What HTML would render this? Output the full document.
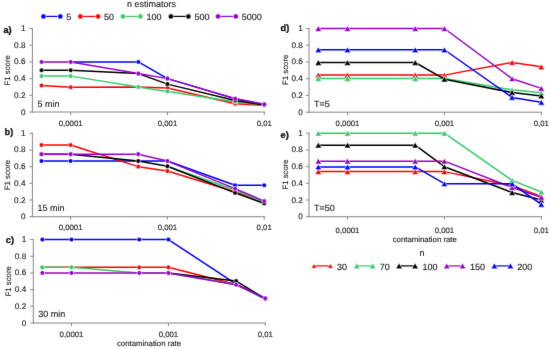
<!DOCTYPE html>
<html><head><meta charset="utf-8"><style>
html,body{margin:0;padding:0;background:#fff;width:550px;height:349px;overflow:hidden;}
svg{display:block;}
#w{will-change:transform;width:550px;height:349px;}
text{fill:#1a1a1a;stroke:#1a1a1a;stroke-width:0.12px;text-rendering:geometricPrecision;}
</style></head><body><div id="w">
<svg width="550" height="349" viewBox="0 0 550 349" font-family='"Liberation Sans", sans-serif' fill="#000"><defs><filter id="bl" x="0" y="0" width="100%" height="100%" filterUnits="userSpaceOnUse" color-interpolation-filters="sRGB"><feConvolveMatrix order="3" kernelMatrix="0.01 0.05 0.01 0.05 0.76 0.05 0.01 0.05 0.01" divisor="1" edgeMode="duplicate" preserveAlpha="true"/></filter></defs><g filter="url(#bl)"><rect x="0" y="0" width="550" height="349" fill="#fff"/><line x1="32.40" y1="28.05" x2="32.40" y2="112.50" stroke="#868686" stroke-width="1"/>
<line x1="31.90" y1="112.00" x2="264.90" y2="112.00" stroke="#868686" stroke-width="1"/>
<line x1="29.40" y1="112.00" x2="32.40" y2="112.00" stroke="#868686" stroke-width="1"/>
<text x="25.50" y="114.50" font-size="8.2" text-anchor="end" font-weight="normal" >0</text>
<line x1="29.40" y1="95.31" x2="32.40" y2="95.31" stroke="#868686" stroke-width="1"/>
<text x="25.50" y="97.81" font-size="8.2" text-anchor="end" font-weight="normal" >0.2</text>
<line x1="29.40" y1="78.62" x2="32.40" y2="78.62" stroke="#868686" stroke-width="1"/>
<text x="25.50" y="81.12" font-size="8.2" text-anchor="end" font-weight="normal" >0.4</text>
<line x1="29.40" y1="61.93" x2="32.40" y2="61.93" stroke="#868686" stroke-width="1"/>
<text x="25.50" y="64.43" font-size="8.2" text-anchor="end" font-weight="normal" >0.6</text>
<line x1="29.40" y1="45.24" x2="32.40" y2="45.24" stroke="#868686" stroke-width="1"/>
<text x="25.50" y="47.74" font-size="8.2" text-anchor="end" font-weight="normal" >0.8</text>
<line x1="29.40" y1="28.55" x2="32.40" y2="28.55" stroke="#868686" stroke-width="1"/>
<text x="25.50" y="31.05" font-size="8.2" text-anchor="end" font-weight="normal" >1</text>
<line x1="70.70" y1="112.00" x2="70.70" y2="115.00" stroke="#868686" stroke-width="1"/>
<text x="70.70" y="125.80" font-size="7.8" text-anchor="middle" font-weight="normal" >0,0001</text>
<line x1="167.50" y1="112.00" x2="167.50" y2="115.00" stroke="#868686" stroke-width="1"/>
<text x="167.50" y="125.80" font-size="7.8" text-anchor="middle" font-weight="normal" >0,001</text>
<line x1="264.30" y1="112.00" x2="264.30" y2="115.00" stroke="#868686" stroke-width="1"/>
<text x="264.30" y="125.80" font-size="7.8" text-anchor="middle" font-weight="normal" >0,01</text>
<text x="0" y="0" font-size="7.8" text-anchor="middle" transform="translate(10.4,70.28) rotate(-90)">F1 score</text>
<text x="3.40" y="32.50" font-size="9.2" text-anchor="start" font-weight="bold" style="stroke-width:0.35px">a)</text>
<text x="37.40" y="106.70" font-size="9" text-anchor="start" font-weight="normal" >5 min</text>
<polyline points="70.70,61.93 138.36,61.93 167.50,78.62 235.16,98.65 264.30,104.49" fill="none" stroke="#0000ff" stroke-width="1.5" stroke-linejoin="round"/>
<circle cx="70.70" cy="61.93" r="2.30" fill="#0000ff" stroke="#fff" stroke-width="0.6"/>
<circle cx="138.36" cy="61.93" r="2.30" fill="#0000ff" stroke="#fff" stroke-width="0.6"/>
<circle cx="167.50" cy="78.62" r="2.30" fill="#0000ff" stroke="#fff" stroke-width="0.6"/>
<circle cx="235.16" cy="98.65" r="2.30" fill="#0000ff" stroke="#fff" stroke-width="0.6"/>
<circle cx="264.30" cy="104.49" r="2.30" fill="#0000ff" stroke="#fff" stroke-width="0.6"/>
<polyline points="41.56,85.55 70.70,87.22 138.36,86.97 167.50,88.05 235.16,103.82 264.30,105.32" fill="none" stroke="#ff0000" stroke-width="1.5" stroke-linejoin="round"/>
<circle cx="41.56" cy="85.55" r="2.30" fill="#ff0000" stroke="#fff" stroke-width="0.6"/>
<circle cx="70.70" cy="87.22" r="2.30" fill="#ff0000" stroke="#fff" stroke-width="0.6"/>
<circle cx="138.36" cy="86.97" r="2.30" fill="#ff0000" stroke="#fff" stroke-width="0.6"/>
<circle cx="167.50" cy="88.05" r="2.30" fill="#ff0000" stroke="#fff" stroke-width="0.6"/>
<circle cx="235.16" cy="103.82" r="2.30" fill="#ff0000" stroke="#fff" stroke-width="0.6"/>
<circle cx="264.30" cy="105.32" r="2.30" fill="#ff0000" stroke="#fff" stroke-width="0.6"/>
<polyline points="41.56,76.12 70.70,76.12 138.36,86.97 167.50,91.39 235.16,101.65 264.30,105.32" fill="none" stroke="#33cc66" stroke-width="1.5" stroke-linejoin="round"/>
<circle cx="41.56" cy="76.12" r="2.30" fill="#33cc66" stroke="#fff" stroke-width="0.6"/>
<circle cx="70.70" cy="76.12" r="2.30" fill="#33cc66" stroke="#fff" stroke-width="0.6"/>
<circle cx="138.36" cy="86.97" r="2.30" fill="#33cc66" stroke="#fff" stroke-width="0.6"/>
<circle cx="167.50" cy="91.39" r="2.30" fill="#33cc66" stroke="#fff" stroke-width="0.6"/>
<circle cx="235.16" cy="101.65" r="2.30" fill="#33cc66" stroke="#fff" stroke-width="0.6"/>
<circle cx="264.30" cy="105.32" r="2.30" fill="#33cc66" stroke="#fff" stroke-width="0.6"/>
<polyline points="41.56,70.28 70.70,70.28 138.36,73.61 167.50,84.13 235.16,100.57 264.30,104.91" fill="none" stroke="#000000" stroke-width="1.5" stroke-linejoin="round"/>
<circle cx="41.56" cy="70.28" r="2.30" fill="#000000" stroke="#fff" stroke-width="0.6"/>
<circle cx="70.70" cy="70.28" r="2.30" fill="#000000" stroke="#fff" stroke-width="0.6"/>
<circle cx="138.36" cy="73.61" r="2.30" fill="#000000" stroke="#fff" stroke-width="0.6"/>
<circle cx="167.50" cy="84.13" r="2.30" fill="#000000" stroke="#fff" stroke-width="0.6"/>
<circle cx="235.16" cy="100.57" r="2.30" fill="#000000" stroke="#fff" stroke-width="0.6"/>
<circle cx="264.30" cy="104.91" r="2.30" fill="#000000" stroke="#fff" stroke-width="0.6"/>
<polyline points="41.56,61.93 70.70,61.93 138.36,73.61 167.50,78.62 235.16,98.81 264.30,104.32" fill="none" stroke="#9900cc" stroke-width="1.5" stroke-linejoin="round"/>
<circle cx="41.56" cy="61.93" r="2.30" fill="#9900cc" stroke="#fff" stroke-width="0.6"/>
<circle cx="70.70" cy="61.93" r="2.30" fill="#9900cc" stroke="#fff" stroke-width="0.6"/>
<circle cx="138.36" cy="73.61" r="2.30" fill="#9900cc" stroke="#fff" stroke-width="0.6"/>
<circle cx="167.50" cy="78.62" r="2.30" fill="#9900cc" stroke="#fff" stroke-width="0.6"/>
<circle cx="235.16" cy="98.81" r="2.30" fill="#9900cc" stroke="#fff" stroke-width="0.6"/>
<circle cx="264.30" cy="104.32" r="2.30" fill="#9900cc" stroke="#fff" stroke-width="0.6"/>
<line x1="32.40" y1="132.80" x2="32.40" y2="217.20" stroke="#868686" stroke-width="1"/>
<line x1="31.90" y1="216.70" x2="265.00" y2="216.70" stroke="#868686" stroke-width="1"/>
<line x1="29.40" y1="216.70" x2="32.40" y2="216.70" stroke="#868686" stroke-width="1"/>
<text x="25.50" y="219.20" font-size="8.2" text-anchor="end" font-weight="normal" >0</text>
<line x1="29.40" y1="200.02" x2="32.40" y2="200.02" stroke="#868686" stroke-width="1"/>
<text x="25.50" y="202.52" font-size="8.2" text-anchor="end" font-weight="normal" >0.2</text>
<line x1="29.40" y1="183.34" x2="32.40" y2="183.34" stroke="#868686" stroke-width="1"/>
<text x="25.50" y="185.84" font-size="8.2" text-anchor="end" font-weight="normal" >0.4</text>
<line x1="29.40" y1="166.66" x2="32.40" y2="166.66" stroke="#868686" stroke-width="1"/>
<text x="25.50" y="169.16" font-size="8.2" text-anchor="end" font-weight="normal" >0.6</text>
<line x1="29.40" y1="149.98" x2="32.40" y2="149.98" stroke="#868686" stroke-width="1"/>
<text x="25.50" y="152.48" font-size="8.2" text-anchor="end" font-weight="normal" >0.8</text>
<line x1="29.40" y1="133.30" x2="32.40" y2="133.30" stroke="#868686" stroke-width="1"/>
<text x="25.50" y="135.80" font-size="8.2" text-anchor="end" font-weight="normal" >1</text>
<line x1="70.60" y1="216.70" x2="70.60" y2="219.70" stroke="#868686" stroke-width="1"/>
<text x="70.60" y="230.40" font-size="7.8" text-anchor="middle" font-weight="normal" >0,0001</text>
<line x1="167.40" y1="216.70" x2="167.40" y2="219.70" stroke="#868686" stroke-width="1"/>
<text x="167.40" y="230.40" font-size="7.8" text-anchor="middle" font-weight="normal" >0,001</text>
<line x1="264.20" y1="216.70" x2="264.20" y2="219.70" stroke="#868686" stroke-width="1"/>
<text x="264.20" y="230.40" font-size="7.8" text-anchor="middle" font-weight="normal" >0,01</text>
<text x="0" y="0" font-size="7.8" text-anchor="middle" transform="translate(10.4,175.00) rotate(-90)">F1 score</text>
<text x="4.60" y="135.40" font-size="9.2" text-anchor="start" font-weight="bold" style="stroke-width:0.35px">b)</text>
<text x="37.40" y="211.40" font-size="9" text-anchor="start" font-weight="normal" >15 min</text>
<polyline points="41.46,161.07 70.60,161.07 138.26,161.07 167.40,161.07 235.06,185.26 264.20,185.26" fill="none" stroke="#0000ff" stroke-width="1.5" stroke-linejoin="round"/>
<circle cx="41.46" cy="161.07" r="2.30" fill="#0000ff" stroke="#fff" stroke-width="0.6"/>
<circle cx="70.60" cy="161.07" r="2.30" fill="#0000ff" stroke="#fff" stroke-width="0.6"/>
<circle cx="138.26" cy="161.07" r="2.30" fill="#0000ff" stroke="#fff" stroke-width="0.6"/>
<circle cx="167.40" cy="161.07" r="2.30" fill="#0000ff" stroke="#fff" stroke-width="0.6"/>
<circle cx="235.06" cy="185.26" r="2.30" fill="#0000ff" stroke="#fff" stroke-width="0.6"/>
<circle cx="264.20" cy="185.26" r="2.30" fill="#0000ff" stroke="#fff" stroke-width="0.6"/>
<polyline points="41.46,144.98 70.60,144.98 138.26,166.66 167.40,171.08 235.06,191.68 264.20,202.52" fill="none" stroke="#ff0000" stroke-width="1.5" stroke-linejoin="round"/>
<circle cx="41.46" cy="144.98" r="2.30" fill="#ff0000" stroke="#fff" stroke-width="0.6"/>
<circle cx="70.60" cy="144.98" r="2.30" fill="#ff0000" stroke="#fff" stroke-width="0.6"/>
<circle cx="138.26" cy="166.66" r="2.30" fill="#ff0000" stroke="#fff" stroke-width="0.6"/>
<circle cx="167.40" cy="171.08" r="2.30" fill="#ff0000" stroke="#fff" stroke-width="0.6"/>
<circle cx="235.06" cy="191.68" r="2.30" fill="#ff0000" stroke="#fff" stroke-width="0.6"/>
<circle cx="264.20" cy="202.52" r="2.30" fill="#ff0000" stroke="#fff" stroke-width="0.6"/>
<polyline points="167.40,166.24 235.06,190.01 264.20,202.52" fill="none" stroke="#33cc66" stroke-width="1.5" stroke-linejoin="round"/>
<circle cx="167.40" cy="166.24" r="2.30" fill="#33cc66" stroke="#fff" stroke-width="0.6"/>
<circle cx="235.06" cy="190.01" r="2.30" fill="#33cc66" stroke="#fff" stroke-width="0.6"/>
<circle cx="264.20" cy="202.52" r="2.30" fill="#33cc66" stroke="#fff" stroke-width="0.6"/>
<polyline points="41.46,154.15 70.60,154.15 138.26,161.07 167.40,166.24 235.06,192.85 264.20,203.44" fill="none" stroke="#000000" stroke-width="1.5" stroke-linejoin="round"/>
<circle cx="41.46" cy="154.15" r="2.30" fill="#000000" stroke="#fff" stroke-width="0.6"/>
<circle cx="70.60" cy="154.15" r="2.30" fill="#000000" stroke="#fff" stroke-width="0.6"/>
<circle cx="138.26" cy="161.07" r="2.30" fill="#000000" stroke="#fff" stroke-width="0.6"/>
<circle cx="167.40" cy="166.24" r="2.30" fill="#000000" stroke="#fff" stroke-width="0.6"/>
<circle cx="235.06" cy="192.85" r="2.30" fill="#000000" stroke="#fff" stroke-width="0.6"/>
<circle cx="264.20" cy="203.44" r="2.30" fill="#000000" stroke="#fff" stroke-width="0.6"/>
<polyline points="41.46,154.15 70.60,154.15 138.26,154.15 167.40,161.07 235.06,188.68 264.20,201.10" fill="none" stroke="#9900cc" stroke-width="1.5" stroke-linejoin="round"/>
<circle cx="41.46" cy="154.15" r="2.30" fill="#9900cc" stroke="#fff" stroke-width="0.6"/>
<circle cx="70.60" cy="154.15" r="2.30" fill="#9900cc" stroke="#fff" stroke-width="0.6"/>
<circle cx="138.26" cy="154.15" r="2.30" fill="#9900cc" stroke="#fff" stroke-width="0.6"/>
<circle cx="167.40" cy="161.07" r="2.30" fill="#9900cc" stroke="#fff" stroke-width="0.6"/>
<circle cx="235.06" cy="188.68" r="2.30" fill="#9900cc" stroke="#fff" stroke-width="0.6"/>
<circle cx="264.20" cy="201.10" r="2.30" fill="#9900cc" stroke="#fff" stroke-width="0.6"/>
<line x1="33.30" y1="239.05" x2="33.30" y2="323.50" stroke="#868686" stroke-width="1"/>
<line x1="32.80" y1="323.00" x2="265.90" y2="323.00" stroke="#868686" stroke-width="1"/>
<line x1="30.30" y1="323.00" x2="33.30" y2="323.00" stroke="#868686" stroke-width="1"/>
<text x="26.20" y="325.50" font-size="8.2" text-anchor="end" font-weight="normal" >0</text>
<line x1="30.30" y1="306.31" x2="33.30" y2="306.31" stroke="#868686" stroke-width="1"/>
<text x="26.20" y="308.81" font-size="8.2" text-anchor="end" font-weight="normal" >0.2</text>
<line x1="30.30" y1="289.62" x2="33.30" y2="289.62" stroke="#868686" stroke-width="1"/>
<text x="26.20" y="292.12" font-size="8.2" text-anchor="end" font-weight="normal" >0.4</text>
<line x1="30.30" y1="272.93" x2="33.30" y2="272.93" stroke="#868686" stroke-width="1"/>
<text x="26.20" y="275.43" font-size="8.2" text-anchor="end" font-weight="normal" >0.6</text>
<line x1="30.30" y1="256.24" x2="33.30" y2="256.24" stroke="#868686" stroke-width="1"/>
<text x="26.20" y="258.74" font-size="8.2" text-anchor="end" font-weight="normal" >0.8</text>
<line x1="30.30" y1="239.55" x2="33.30" y2="239.55" stroke="#868686" stroke-width="1"/>
<text x="26.20" y="242.05" font-size="8.2" text-anchor="end" font-weight="normal" >1</text>
<line x1="71.50" y1="323.00" x2="71.50" y2="326.00" stroke="#868686" stroke-width="1"/>
<text x="71.50" y="336.60" font-size="7.8" text-anchor="middle" font-weight="normal" >0,0001</text>
<line x1="168.40" y1="323.00" x2="168.40" y2="326.00" stroke="#868686" stroke-width="1"/>
<text x="168.40" y="336.60" font-size="7.8" text-anchor="middle" font-weight="normal" >0,001</text>
<line x1="265.30" y1="323.00" x2="265.30" y2="326.00" stroke="#868686" stroke-width="1"/>
<text x="265.30" y="336.60" font-size="7.8" text-anchor="middle" font-weight="normal" >0,01</text>
<text x="0" y="0" font-size="7.8" text-anchor="middle" transform="translate(11.0,281.27) rotate(-90)">F1 score</text>
<text x="5.80" y="242.60" font-size="9.2" text-anchor="start" font-weight="bold" style="stroke-width:0.35px">c)</text>
<text x="38.30" y="317.00" font-size="9" text-anchor="start" font-weight="normal" >30 min</text>
<polyline points="42.33,239.55 71.50,239.55 139.23,239.55 168.40,239.55 236.13,284.11 265.30,299.30" fill="none" stroke="#0000ff" stroke-width="1.5" stroke-linejoin="round"/>
<circle cx="42.33" cy="239.55" r="2.30" fill="#0000ff" stroke="#fff" stroke-width="0.6"/>
<circle cx="71.50" cy="239.55" r="2.30" fill="#0000ff" stroke="#fff" stroke-width="0.6"/>
<circle cx="139.23" cy="239.55" r="2.30" fill="#0000ff" stroke="#fff" stroke-width="0.6"/>
<circle cx="168.40" cy="239.55" r="2.30" fill="#0000ff" stroke="#fff" stroke-width="0.6"/>
<circle cx="236.13" cy="284.11" r="2.30" fill="#0000ff" stroke="#fff" stroke-width="0.6"/>
<circle cx="265.30" cy="299.30" r="2.30" fill="#0000ff" stroke="#fff" stroke-width="0.6"/>
<polyline points="42.33,267.34 71.50,267.34 139.23,267.34 168.40,267.34 236.13,284.45 265.30,298.30" fill="none" stroke="#ff0000" stroke-width="1.5" stroke-linejoin="round"/>
<circle cx="42.33" cy="267.34" r="2.30" fill="#ff0000" stroke="#fff" stroke-width="0.6"/>
<circle cx="71.50" cy="267.34" r="2.30" fill="#ff0000" stroke="#fff" stroke-width="0.6"/>
<circle cx="139.23" cy="267.34" r="2.30" fill="#ff0000" stroke="#fff" stroke-width="0.6"/>
<circle cx="168.40" cy="267.34" r="2.30" fill="#ff0000" stroke="#fff" stroke-width="0.6"/>
<circle cx="236.13" cy="284.45" r="2.30" fill="#ff0000" stroke="#fff" stroke-width="0.6"/>
<circle cx="265.30" cy="298.30" r="2.30" fill="#ff0000" stroke="#fff" stroke-width="0.6"/>
<polyline points="42.33,267.34 71.50,267.34 139.23,272.93 168.40,272.93 236.13,284.61 265.30,298.80" fill="none" stroke="#33cc66" stroke-width="1.5" stroke-linejoin="round"/>
<circle cx="42.33" cy="267.34" r="2.30" fill="#33cc66" stroke="#fff" stroke-width="0.6"/>
<circle cx="71.50" cy="267.34" r="2.30" fill="#33cc66" stroke="#fff" stroke-width="0.6"/>
<circle cx="139.23" cy="272.93" r="2.30" fill="#33cc66" stroke="#fff" stroke-width="0.6"/>
<circle cx="168.40" cy="272.93" r="2.30" fill="#33cc66" stroke="#fff" stroke-width="0.6"/>
<circle cx="236.13" cy="284.61" r="2.30" fill="#33cc66" stroke="#fff" stroke-width="0.6"/>
<circle cx="265.30" cy="298.80" r="2.30" fill="#33cc66" stroke="#fff" stroke-width="0.6"/>
<polyline points="168.40,272.93 236.13,281.02 265.30,298.80" fill="none" stroke="#000000" stroke-width="1.5" stroke-linejoin="round"/>
<circle cx="168.40" cy="272.93" r="2.30" fill="#000000" stroke="#fff" stroke-width="0.6"/>
<circle cx="236.13" cy="281.02" r="2.30" fill="#000000" stroke="#fff" stroke-width="0.6"/>
<circle cx="265.30" cy="298.80" r="2.30" fill="#000000" stroke="#fff" stroke-width="0.6"/>
<polyline points="42.33,272.93 71.50,272.93 139.23,272.93 168.40,272.93 236.13,284.70 265.30,298.22" fill="none" stroke="#9900cc" stroke-width="1.5" stroke-linejoin="round"/>
<circle cx="42.33" cy="272.93" r="2.30" fill="#9900cc" stroke="#fff" stroke-width="0.6"/>
<circle cx="71.50" cy="272.93" r="2.30" fill="#9900cc" stroke="#fff" stroke-width="0.6"/>
<circle cx="139.23" cy="272.93" r="2.30" fill="#9900cc" stroke="#fff" stroke-width="0.6"/>
<circle cx="168.40" cy="272.93" r="2.30" fill="#9900cc" stroke="#fff" stroke-width="0.6"/>
<circle cx="236.13" cy="284.70" r="2.30" fill="#9900cc" stroke="#fff" stroke-width="0.6"/>
<circle cx="265.30" cy="298.22" r="2.30" fill="#9900cc" stroke="#fff" stroke-width="0.6"/>
<line x1="309.00" y1="28.00" x2="309.00" y2="112.70" stroke="#868686" stroke-width="1"/>
<line x1="308.50" y1="112.20" x2="541.80" y2="112.20" stroke="#868686" stroke-width="1"/>
<line x1="306.00" y1="112.20" x2="309.00" y2="112.20" stroke="#868686" stroke-width="1"/>
<text x="302.80" y="114.70" font-size="8.2" text-anchor="end" font-weight="normal" >0</text>
<line x1="306.00" y1="95.46" x2="309.00" y2="95.46" stroke="#868686" stroke-width="1"/>
<text x="302.80" y="97.96" font-size="8.2" text-anchor="end" font-weight="normal" >0.2</text>
<line x1="306.00" y1="78.72" x2="309.00" y2="78.72" stroke="#868686" stroke-width="1"/>
<text x="302.80" y="81.22" font-size="8.2" text-anchor="end" font-weight="normal" >0.4</text>
<line x1="306.00" y1="61.98" x2="309.00" y2="61.98" stroke="#868686" stroke-width="1"/>
<text x="302.80" y="64.48" font-size="8.2" text-anchor="end" font-weight="normal" >0.6</text>
<line x1="306.00" y1="45.24" x2="309.00" y2="45.24" stroke="#868686" stroke-width="1"/>
<text x="302.80" y="47.74" font-size="8.2" text-anchor="end" font-weight="normal" >0.8</text>
<line x1="306.00" y1="28.50" x2="309.00" y2="28.50" stroke="#868686" stroke-width="1"/>
<text x="302.80" y="31.00" font-size="8.2" text-anchor="end" font-weight="normal" >1</text>
<line x1="347.50" y1="112.20" x2="347.50" y2="115.20" stroke="#868686" stroke-width="1"/>
<text x="347.50" y="126.00" font-size="7.8" text-anchor="middle" font-weight="normal" >0,0001</text>
<line x1="444.40" y1="112.20" x2="444.40" y2="115.20" stroke="#868686" stroke-width="1"/>
<text x="444.40" y="126.00" font-size="7.8" text-anchor="middle" font-weight="normal" >0,001</text>
<line x1="541.30" y1="112.20" x2="541.30" y2="115.20" stroke="#868686" stroke-width="1"/>
<text x="541.30" y="126.00" font-size="7.8" text-anchor="middle" font-weight="normal" >0,01</text>
<text x="0" y="0" font-size="7.8" text-anchor="middle" transform="translate(288.0,69.85) rotate(-90)">F1 score</text>
<text x="280.60" y="31.00" font-size="9.2" text-anchor="start" font-weight="bold" style="stroke-width:0.35px">d)</text>
<text x="314.00" y="106.90" font-size="9" text-anchor="start" font-weight="normal" >T=5</text>
<polyline points="318.33,75.12 347.50,75.12 415.23,75.12 444.40,75.12 512.13,62.40 541.30,66.83" fill="none" stroke="#ff0000" stroke-width="1.5" stroke-linejoin="round"/>
<polygon points="318.33,72.32 321.66,78.02 315.00,78.02" fill="#ff0000" stroke="#fff" stroke-width="0.6" stroke-linejoin="round"/>
<polygon points="347.50,72.32 350.83,78.02 344.17,78.02" fill="#ff0000" stroke="#fff" stroke-width="0.6" stroke-linejoin="round"/>
<polygon points="415.23,72.32 418.56,78.02 411.90,78.02" fill="#ff0000" stroke="#fff" stroke-width="0.6" stroke-linejoin="round"/>
<polygon points="444.40,72.32 447.73,78.02 441.07,78.02" fill="#ff0000" stroke="#fff" stroke-width="0.6" stroke-linejoin="round"/>
<polygon points="512.13,59.60 515.46,65.30 508.80,65.30" fill="#ff0000" stroke="#fff" stroke-width="0.6" stroke-linejoin="round"/>
<polygon points="541.30,64.03 544.63,69.73 537.97,69.73" fill="#ff0000" stroke="#fff" stroke-width="0.6" stroke-linejoin="round"/>
<polyline points="318.33,78.55 347.50,78.55 415.23,78.55 444.40,78.55 512.13,89.77 541.30,92.70" fill="none" stroke="#33cc66" stroke-width="1.5" stroke-linejoin="round"/>
<polygon points="318.33,75.75 321.66,81.45 315.00,81.45" fill="#33cc66" stroke="#fff" stroke-width="0.6" stroke-linejoin="round"/>
<polygon points="347.50,75.75 350.83,81.45 344.17,81.45" fill="#33cc66" stroke="#fff" stroke-width="0.6" stroke-linejoin="round"/>
<polygon points="415.23,75.75 418.56,81.45 411.90,81.45" fill="#33cc66" stroke="#fff" stroke-width="0.6" stroke-linejoin="round"/>
<polygon points="444.40,75.75 447.73,81.45 441.07,81.45" fill="#33cc66" stroke="#fff" stroke-width="0.6" stroke-linejoin="round"/>
<polygon points="512.13,86.97 515.46,92.67 508.80,92.67" fill="#33cc66" stroke="#fff" stroke-width="0.6" stroke-linejoin="round"/>
<polygon points="541.30,89.90 544.63,95.60 537.97,95.60" fill="#33cc66" stroke="#fff" stroke-width="0.6" stroke-linejoin="round"/>
<polyline points="318.33,62.48 347.50,62.48 415.23,62.48 444.40,79.22 512.13,92.53 541.30,95.88" fill="none" stroke="#000000" stroke-width="1.5" stroke-linejoin="round"/>
<polygon points="318.33,59.68 321.66,65.38 315.00,65.38" fill="#000000" stroke="#fff" stroke-width="0.6" stroke-linejoin="round"/>
<polygon points="347.50,59.68 350.83,65.38 344.17,65.38" fill="#000000" stroke="#fff" stroke-width="0.6" stroke-linejoin="round"/>
<polygon points="415.23,59.68 418.56,65.38 411.90,65.38" fill="#000000" stroke="#fff" stroke-width="0.6" stroke-linejoin="round"/>
<polygon points="444.40,76.42 447.73,82.12 441.07,82.12" fill="#000000" stroke="#fff" stroke-width="0.6" stroke-linejoin="round"/>
<polygon points="512.13,89.73 515.46,95.43 508.80,95.43" fill="#000000" stroke="#fff" stroke-width="0.6" stroke-linejoin="round"/>
<polygon points="541.30,93.08 544.63,98.78 537.97,98.78" fill="#000000" stroke="#fff" stroke-width="0.6" stroke-linejoin="round"/>
<polyline points="318.33,28.50 347.50,28.50 415.23,28.50 444.40,28.50 512.13,78.72 541.30,88.35" fill="none" stroke="#9900cc" stroke-width="1.5" stroke-linejoin="round"/>
<polygon points="318.33,25.70 321.66,31.40 315.00,31.40" fill="#9900cc" stroke="#fff" stroke-width="0.6" stroke-linejoin="round"/>
<polygon points="347.50,25.70 350.83,31.40 344.17,31.40" fill="#9900cc" stroke="#fff" stroke-width="0.6" stroke-linejoin="round"/>
<polygon points="415.23,25.70 418.56,31.40 411.90,31.40" fill="#9900cc" stroke="#fff" stroke-width="0.6" stroke-linejoin="round"/>
<polygon points="444.40,25.70 447.73,31.40 441.07,31.40" fill="#9900cc" stroke="#fff" stroke-width="0.6" stroke-linejoin="round"/>
<polygon points="512.13,75.92 515.46,81.62 508.80,81.62" fill="#9900cc" stroke="#fff" stroke-width="0.6" stroke-linejoin="round"/>
<polygon points="541.30,85.55 544.63,91.25 537.97,91.25" fill="#9900cc" stroke="#fff" stroke-width="0.6" stroke-linejoin="round"/>
<polyline points="318.33,49.76 347.50,49.76 415.23,49.76 444.40,49.76 512.13,97.39 541.30,102.24" fill="none" stroke="#0000ff" stroke-width="1.5" stroke-linejoin="round"/>
<polygon points="318.33,46.96 321.66,52.66 315.00,52.66" fill="#0000ff" stroke="#fff" stroke-width="0.6" stroke-linejoin="round"/>
<polygon points="347.50,46.96 350.83,52.66 344.17,52.66" fill="#0000ff" stroke="#fff" stroke-width="0.6" stroke-linejoin="round"/>
<polygon points="415.23,46.96 418.56,52.66 411.90,52.66" fill="#0000ff" stroke="#fff" stroke-width="0.6" stroke-linejoin="round"/>
<polygon points="444.40,46.96 447.73,52.66 441.07,52.66" fill="#0000ff" stroke="#fff" stroke-width="0.6" stroke-linejoin="round"/>
<polygon points="512.13,94.59 515.46,100.29 508.80,100.29" fill="#0000ff" stroke="#fff" stroke-width="0.6" stroke-linejoin="round"/>
<polygon points="541.30,99.44 544.63,105.14 537.97,105.14" fill="#0000ff" stroke="#fff" stroke-width="0.6" stroke-linejoin="round"/>
<line x1="309.00" y1="132.70" x2="309.00" y2="217.20" stroke="#868686" stroke-width="1"/>
<line x1="308.50" y1="216.70" x2="541.80" y2="216.70" stroke="#868686" stroke-width="1"/>
<line x1="306.00" y1="216.70" x2="309.00" y2="216.70" stroke="#868686" stroke-width="1"/>
<text x="302.80" y="219.20" font-size="8.2" text-anchor="end" font-weight="normal" >0</text>
<line x1="306.00" y1="200.00" x2="309.00" y2="200.00" stroke="#868686" stroke-width="1"/>
<text x="302.80" y="202.50" font-size="8.2" text-anchor="end" font-weight="normal" >0.2</text>
<line x1="306.00" y1="183.30" x2="309.00" y2="183.30" stroke="#868686" stroke-width="1"/>
<text x="302.80" y="185.80" font-size="8.2" text-anchor="end" font-weight="normal" >0.4</text>
<line x1="306.00" y1="166.60" x2="309.00" y2="166.60" stroke="#868686" stroke-width="1"/>
<text x="302.80" y="169.10" font-size="8.2" text-anchor="end" font-weight="normal" >0.6</text>
<line x1="306.00" y1="149.90" x2="309.00" y2="149.90" stroke="#868686" stroke-width="1"/>
<text x="302.80" y="152.40" font-size="8.2" text-anchor="end" font-weight="normal" >0.8</text>
<line x1="306.00" y1="133.20" x2="309.00" y2="133.20" stroke="#868686" stroke-width="1"/>
<text x="302.80" y="135.70" font-size="8.2" text-anchor="end" font-weight="normal" >1</text>
<line x1="347.50" y1="216.70" x2="347.50" y2="219.70" stroke="#868686" stroke-width="1"/>
<text x="347.50" y="233.00" font-size="7.8" text-anchor="middle" font-weight="normal" >0,0001</text>
<line x1="444.40" y1="216.70" x2="444.40" y2="219.70" stroke="#868686" stroke-width="1"/>
<text x="444.40" y="233.00" font-size="7.8" text-anchor="middle" font-weight="normal" >0,001</text>
<line x1="541.30" y1="216.70" x2="541.30" y2="219.70" stroke="#868686" stroke-width="1"/>
<text x="541.30" y="233.00" font-size="7.8" text-anchor="middle" font-weight="normal" >0,01</text>
<text x="0" y="0" font-size="7.8" text-anchor="middle" transform="translate(288.0,174.45) rotate(-90)">F1 score</text>
<text x="280.60" y="137.60" font-size="9.2" text-anchor="start" font-weight="bold" style="stroke-width:0.35px">e)</text>
<text x="314.00" y="211.40" font-size="9" text-anchor="start" font-weight="normal" >T=50</text>
<polyline points="318.33,171.61 347.50,171.61 415.23,171.61 444.40,171.61 512.13,185.80 541.30,196.41" fill="none" stroke="#ff0000" stroke-width="1.5" stroke-linejoin="round"/>
<polygon points="318.33,168.81 321.66,174.51 315.00,174.51" fill="#ff0000" stroke="#fff" stroke-width="0.6" stroke-linejoin="round"/>
<polygon points="347.50,168.81 350.83,174.51 344.17,174.51" fill="#ff0000" stroke="#fff" stroke-width="0.6" stroke-linejoin="round"/>
<polygon points="415.23,168.81 418.56,174.51 411.90,174.51" fill="#ff0000" stroke="#fff" stroke-width="0.6" stroke-linejoin="round"/>
<polygon points="444.40,168.81 447.73,174.51 441.07,174.51" fill="#ff0000" stroke="#fff" stroke-width="0.6" stroke-linejoin="round"/>
<polygon points="512.13,183.00 515.46,188.70 508.80,188.70" fill="#ff0000" stroke="#fff" stroke-width="0.6" stroke-linejoin="round"/>
<polygon points="541.30,193.61 544.63,199.31 537.97,199.31" fill="#ff0000" stroke="#fff" stroke-width="0.6" stroke-linejoin="round"/>
<polyline points="318.33,133.20 347.50,133.20 415.23,133.20 444.40,133.20 512.13,180.38 541.30,191.98" fill="none" stroke="#33cc66" stroke-width="1.5" stroke-linejoin="round"/>
<polygon points="318.33,130.40 321.66,136.10 315.00,136.10" fill="#33cc66" stroke="#fff" stroke-width="0.6" stroke-linejoin="round"/>
<polygon points="347.50,130.40 350.83,136.10 344.17,136.10" fill="#33cc66" stroke="#fff" stroke-width="0.6" stroke-linejoin="round"/>
<polygon points="415.23,130.40 418.56,136.10 411.90,136.10" fill="#33cc66" stroke="#fff" stroke-width="0.6" stroke-linejoin="round"/>
<polygon points="444.40,130.40 447.73,136.10 441.07,136.10" fill="#33cc66" stroke="#fff" stroke-width="0.6" stroke-linejoin="round"/>
<polygon points="512.13,177.58 515.46,183.28 508.80,183.28" fill="#33cc66" stroke="#fff" stroke-width="0.6" stroke-linejoin="round"/>
<polygon points="541.30,189.18 544.63,194.88 537.97,194.88" fill="#33cc66" stroke="#fff" stroke-width="0.6" stroke-linejoin="round"/>
<polyline points="318.33,145.14 347.50,145.14 415.23,145.14 444.40,166.68 512.13,192.48 541.30,200.00" fill="none" stroke="#000000" stroke-width="1.5" stroke-linejoin="round"/>
<polygon points="318.33,142.34 321.66,148.04 315.00,148.04" fill="#000000" stroke="#fff" stroke-width="0.6" stroke-linejoin="round"/>
<polygon points="347.50,142.34 350.83,148.04 344.17,148.04" fill="#000000" stroke="#fff" stroke-width="0.6" stroke-linejoin="round"/>
<polygon points="415.23,142.34 418.56,148.04 411.90,148.04" fill="#000000" stroke="#fff" stroke-width="0.6" stroke-linejoin="round"/>
<polygon points="444.40,163.88 447.73,169.58 441.07,169.58" fill="#000000" stroke="#fff" stroke-width="0.6" stroke-linejoin="round"/>
<polygon points="512.13,189.68 515.46,195.38 508.80,195.38" fill="#000000" stroke="#fff" stroke-width="0.6" stroke-linejoin="round"/>
<polygon points="541.30,197.20 544.63,202.90 537.97,202.90" fill="#000000" stroke="#fff" stroke-width="0.6" stroke-linejoin="round"/>
<polyline points="318.33,161.17 347.50,161.17 415.23,161.17 444.40,161.17 512.13,187.56 541.30,197.33" fill="none" stroke="#9900cc" stroke-width="1.5" stroke-linejoin="round"/>
<polygon points="318.33,158.37 321.66,164.07 315.00,164.07" fill="#9900cc" stroke="#fff" stroke-width="0.6" stroke-linejoin="round"/>
<polygon points="347.50,158.37 350.83,164.07 344.17,164.07" fill="#9900cc" stroke="#fff" stroke-width="0.6" stroke-linejoin="round"/>
<polygon points="415.23,158.37 418.56,164.07 411.90,164.07" fill="#9900cc" stroke="#fff" stroke-width="0.6" stroke-linejoin="round"/>
<polygon points="444.40,158.37 447.73,164.07 441.07,164.07" fill="#9900cc" stroke="#fff" stroke-width="0.6" stroke-linejoin="round"/>
<polygon points="512.13,184.76 515.46,190.46 508.80,190.46" fill="#9900cc" stroke="#fff" stroke-width="0.6" stroke-linejoin="round"/>
<polygon points="541.30,194.53 544.63,200.23 537.97,200.23" fill="#9900cc" stroke="#fff" stroke-width="0.6" stroke-linejoin="round"/>
<polyline points="318.33,166.93 347.50,166.93 415.23,166.93 444.40,183.72 512.13,183.80 541.30,204.34" fill="none" stroke="#0000ff" stroke-width="1.5" stroke-linejoin="round"/>
<polygon points="318.33,164.13 321.66,169.83 315.00,169.83" fill="#0000ff" stroke="#fff" stroke-width="0.6" stroke-linejoin="round"/>
<polygon points="347.50,164.13 350.83,169.83 344.17,169.83" fill="#0000ff" stroke="#fff" stroke-width="0.6" stroke-linejoin="round"/>
<polygon points="415.23,164.13 418.56,169.83 411.90,169.83" fill="#0000ff" stroke="#fff" stroke-width="0.6" stroke-linejoin="round"/>
<polygon points="444.40,180.92 447.73,186.62 441.07,186.62" fill="#0000ff" stroke="#fff" stroke-width="0.6" stroke-linejoin="round"/>
<polygon points="512.13,181.00 515.46,186.70 508.80,186.70" fill="#0000ff" stroke="#fff" stroke-width="0.6" stroke-linejoin="round"/>
<polygon points="541.30,201.54 544.63,207.24 537.97,207.24" fill="#0000ff" stroke="#fff" stroke-width="0.6" stroke-linejoin="round"/>
<text x="149.00" y="345.80" font-size="7.8" text-anchor="middle" font-weight="normal" >contamination rate</text>
<text x="424.80" y="241.80" font-size="7.8" text-anchor="middle" font-weight="normal" >contamination rate</text>
<text x="151.50" y="7.00" font-size="9" text-anchor="middle" font-weight="normal" >n estimators</text>
<line x1="43.50" y1="16.40" x2="60.30" y2="16.40" stroke="#0000ff" stroke-width="1.2"/>
<circle cx="43.50" cy="16.40" r="2.55" fill="#0000ff" stroke="#fff" stroke-width="0.6"/>
<circle cx="60.30" cy="16.40" r="2.55" fill="#0000ff" stroke="#fff" stroke-width="0.6"/>
<text x="66.30" y="19.60" font-size="9" text-anchor="start" font-weight="normal" >5</text>
<line x1="80.40" y1="16.40" x2="98.10" y2="16.40" stroke="#ff0000" stroke-width="1.2"/>
<circle cx="80.40" cy="16.40" r="2.55" fill="#ff0000" stroke="#fff" stroke-width="0.6"/>
<circle cx="98.10" cy="16.40" r="2.55" fill="#ff0000" stroke="#fff" stroke-width="0.6"/>
<text x="104.10" y="19.60" font-size="9" text-anchor="start" font-weight="normal" >50</text>
<line x1="122.90" y1="16.40" x2="140.40" y2="16.40" stroke="#33cc66" stroke-width="1.2"/>
<circle cx="122.90" cy="16.40" r="2.55" fill="#33cc66" stroke="#fff" stroke-width="0.6"/>
<circle cx="140.40" cy="16.40" r="2.55" fill="#33cc66" stroke="#fff" stroke-width="0.6"/>
<text x="146.40" y="19.60" font-size="9" text-anchor="start" font-weight="normal" >100</text>
<line x1="170.90" y1="16.40" x2="188.40" y2="16.40" stroke="#000000" stroke-width="1.2"/>
<circle cx="170.90" cy="16.40" r="2.55" fill="#000000" stroke="#fff" stroke-width="0.6"/>
<circle cx="188.40" cy="16.40" r="2.55" fill="#000000" stroke="#fff" stroke-width="0.6"/>
<text x="194.40" y="19.60" font-size="9" text-anchor="start" font-weight="normal" >500</text>
<line x1="218.00" y1="16.40" x2="235.80" y2="16.40" stroke="#9900cc" stroke-width="1.2"/>
<circle cx="218.00" cy="16.40" r="2.55" fill="#9900cc" stroke="#fff" stroke-width="0.6"/>
<circle cx="235.80" cy="16.40" r="2.55" fill="#9900cc" stroke="#fff" stroke-width="0.6"/>
<text x="241.80" y="19.60" font-size="9" text-anchor="start" font-weight="normal" >5000</text>
<text x="422.00" y="256.00" font-size="9" text-anchor="middle" font-weight="normal" >n</text>
<line x1="314.00" y1="265.90" x2="330.50" y2="265.90" stroke="#ff0000" stroke-width="1.2"/>
<polygon points="314.00,263.60 316.73,268.28 311.27,268.28" fill="#ff0000" stroke="#fff" stroke-width="0.6" stroke-linejoin="round"/>
<polygon points="330.50,263.60 333.23,268.28 327.77,268.28" fill="#ff0000" stroke="#fff" stroke-width="0.6" stroke-linejoin="round"/>
<text x="337.00" y="269.60" font-size="9" text-anchor="start" font-weight="normal" >30</text>
<line x1="356.80" y1="265.90" x2="372.60" y2="265.90" stroke="#33cc66" stroke-width="1.2"/>
<polygon points="356.80,263.10 360.13,268.80 353.47,268.80" fill="#33cc66" stroke="#fff" stroke-width="0.6" stroke-linejoin="round"/>
<polygon points="372.60,263.10 375.93,268.80 369.27,268.80" fill="#33cc66" stroke="#fff" stroke-width="0.6" stroke-linejoin="round"/>
<text x="379.80" y="269.60" font-size="9" text-anchor="start" font-weight="normal" >70</text>
<line x1="399.10" y1="265.90" x2="415.10" y2="265.90" stroke="#000000" stroke-width="1.2"/>
<polygon points="399.10,263.10 402.43,268.80 395.77,268.80" fill="#000000" stroke="#fff" stroke-width="0.6" stroke-linejoin="round"/>
<polygon points="415.10,263.10 418.43,268.80 411.77,268.80" fill="#000000" stroke="#fff" stroke-width="0.6" stroke-linejoin="round"/>
<text x="422.60" y="269.60" font-size="9" text-anchor="start" font-weight="normal" >100</text>
<line x1="446.80" y1="265.90" x2="462.60" y2="265.90" stroke="#9900cc" stroke-width="1.2"/>
<polygon points="446.80,263.10 450.13,268.80 443.47,268.80" fill="#9900cc" stroke="#fff" stroke-width="0.6" stroke-linejoin="round"/>
<polygon points="462.60,263.10 465.93,268.80 459.27,268.80" fill="#9900cc" stroke="#fff" stroke-width="0.6" stroke-linejoin="round"/>
<text x="470.00" y="269.60" font-size="9" text-anchor="start" font-weight="normal" >150</text>
<line x1="494.40" y1="265.90" x2="510.40" y2="265.90" stroke="#0000ff" stroke-width="1.2"/>
<polygon points="494.40,263.10 497.73,268.80 491.07,268.80" fill="#0000ff" stroke="#fff" stroke-width="0.6" stroke-linejoin="round"/>
<polygon points="510.40,263.10 513.73,268.80 507.07,268.80" fill="#0000ff" stroke="#fff" stroke-width="0.6" stroke-linejoin="round"/>
<text x="517.20" y="269.60" font-size="9" text-anchor="start" font-weight="normal" >200</text></g></svg>
</div></body></html>
